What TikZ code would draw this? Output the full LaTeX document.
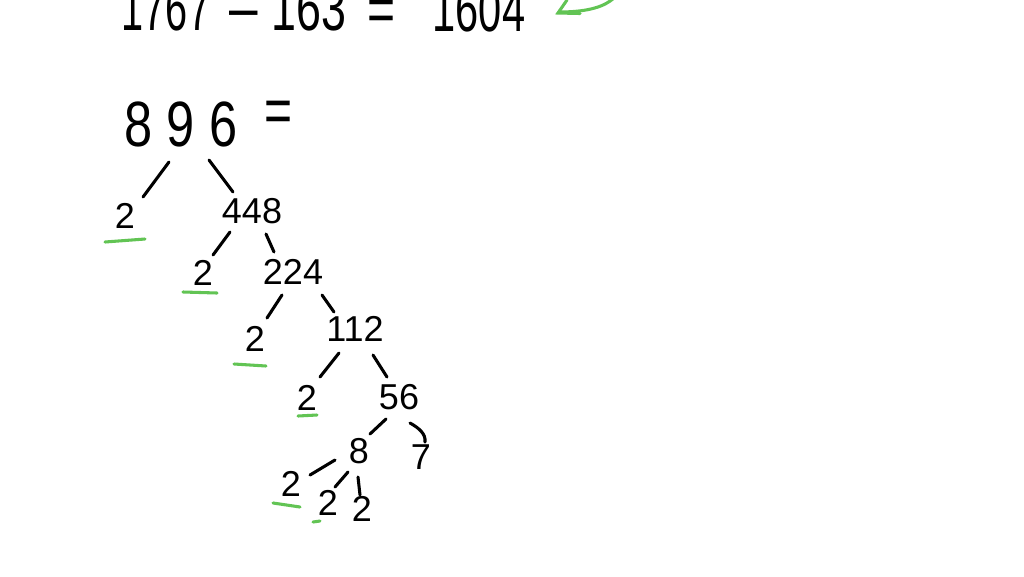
\documentclass[tikz,border=0pt]{standalone}
\usepackage{fontspec}
\setmainfont{Liberation Sans}
\definecolor{hgreen}{RGB}{98,196,84}
\begin{document}
\begin{tikzpicture}[x=0.75pt,y=-0.75pt,
  num/.style={inner sep=0pt, font=\fontsize{27}{30}\selectfont},
  big/.style={inner sep=0pt, font=\fontsize{48}{52}\selectfont},
  stroke/.style={line width=2.3pt, line cap=round},
  gline/.style={hgreen, line width=2.3pt, line cap=round}]
\useasboundingbox (0,0) rectangle (1024,576);
\clip (0,0) rectangle (1024,576);
\fill[white] (0,0) rectangle (1024,576);
% top line (cut off at the top, as in the reference)
\node[big, anchor=base] (t1) at (166,30) {\scalebox{0.62}[1]{1767}};
\node[big, anchor=base] (tm) at (244,29) {\scalebox{0.8}[1]{–}};
\node[big, anchor=base] (t2) at (309,30) {\scalebox{0.7}[1]{163}};
\node[big, anchor=base] (te) at (382,31) {\scalebox{0.75}[1]{=}};
\node[big, anchor=base] (t3) at (479,31) {\scalebox{0.65}[1]{1604}};
\draw[gline] (567,0) -- (558,13) -- (580,13.5);
\draw[gline] (559,12) .. controls (590,12) and (605,6) .. (614,-2);
% tree
\node[big] (t896) at (181,124) {\scalebox{0.79}[1]{8 9 6}};
\node[big] (eqa) at (279,117) {\scalebox{0.75}[1]{=}};
\node[num] (a2) at (125,216) {2};
\node[num] (n448) at (252,211) {448};
\node[num] (b2) at (203,273) {2};
\node[num] (n224) at (293,272) {224};
\node[num] (c2) at (255,339) {2};
\node[num] (n112) at (355,329) {112};
\node[num] (d2) at (307,398) {2};
\node[num] (n56) at (399,397) {56};
\node[num] (n8) at (359,451) {8};
\node[num] (n7) at (421,457) {7};
\node[num] (e2) at (291,484) {2};
\node[num] (f2) at (328,503) {2};
\node[num] (g2) at (362,509) {2};
% connectors
\draw[stroke] ([shift={(-12,38)}]t896.center) -- ([shift={(18,-19)}]a2.center);
\draw[stroke] ([shift={(28,36)}]t896.center) -- ([shift={(-19,-19)}]n448.center);
\draw[stroke] ([shift={(-22,21)}]n448.center) -- ([shift={(10,-18)}]b2.center);
\draw[stroke] ([shift={(14,23)}]n448.center) -- ([shift={(-19,-20)}]n224.center);
\draw[stroke] ([shift={(-11,23)}]n224.center) -- ([shift={(12,-21)}]c2.center);
\draw[stroke] ([shift={(29,23)}]n224.center) -- ([shift={(-21,-17)}]n112.center);
\draw[stroke] ([shift={(-16,24)}]n112.center) -- ([shift={(13,-21)}]d2.center);
\draw[stroke] ([shift={(18,26)}]n112.center) -- ([shift={(-12,-20)}]n56.center);
\draw[stroke] ([shift={(-13,22)}]n56.center) -- ([shift={(11,-17)}]n8.center);
\draw[stroke] ([shift={(11,26)}]n56.center) .. controls +(9,5) and +(1,-8) .. ([shift={(4,-15)}]n7.center);
\draw[stroke] ([shift={(-24,9)}]n8.center) -- ([shift={(19,-9)}]e2.center);
\draw[stroke] ([shift={(-11,21)}]n8.center) -- ([shift={(7,-16)}]f2.center);
\draw[stroke] ([shift={(-1,26)}]n8.center) -- ([shift={(-2,-14)}]g2.center);
% green underlines
\draw[gline] ([shift={(-20,26)}]a2.center) -- ([shift={(20,23)}]a2.center);
\draw[gline] ([shift={(-20,19)}]b2.center) -- ([shift={(14,20)}]b2.center);
\draw[gline] ([shift={(-21,25)}]c2.center) -- ([shift={(11,27)}]c2.center);
\draw[gline] ([shift={(-9,18)}]d2.center) -- ([shift={(10,17)}]d2.center);
\draw[gline] ([shift={(-18,19)}]e2.center) -- ([shift={(9,23)}]e2.center);
\draw[gline] ([shift={(-15,19)}]f2.center) -- ([shift={(-8,18)}]f2.center);
\end{tikzpicture}
\end{document}
